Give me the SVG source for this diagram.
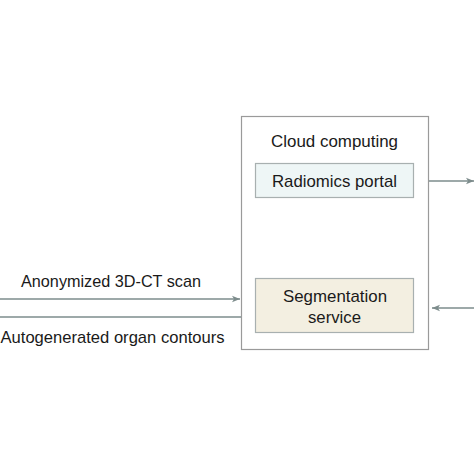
<svg xmlns="http://www.w3.org/2000/svg" width="474" height="474" viewBox="0 0 474 474">
<style>
.t{font-family:"Liberation Sans",Arial,sans-serif;font-size:17px;fill:#1a1a1a}
.c{stroke:#7d8c8c;stroke-width:1.3;fill:none}
</style>
<defs>
<marker id="ah" viewBox="0 0 10 10" refX="10" refY="5" markerWidth="8" markerHeight="8" markerUnits="userSpaceOnUse" orient="auto">
<path d="M0,1 L10,5 L0,9 L2.5,5 Z" fill="#7d8c8c"/>
</marker>
</defs>
<rect width="474" height="474" fill="#ffffff"/>
<g id="cloud">
<rect x="241.5" y="116.5" width="187" height="233" fill="#ffffff" stroke="#9a9a9a" stroke-width="1.2"/>
<text class="t" x="334.5" y="147" text-anchor="middle" textLength="127" lengthAdjust="spacingAndGlyphs">Cloud computing</text>
</g>
<g id="radiomics">
<rect x="255.5" y="163.5" width="158" height="34" fill="#eef6f6" stroke="#a8b0b0" stroke-width="1.2"/>
<text class="t" x="334.5" y="187" text-anchor="middle" textLength="125" lengthAdjust="spacingAndGlyphs">Radiomics portal</text>
</g>
<g id="segmentation">
<rect x="255.5" y="278.5" width="158" height="54" fill="#f3efe1" stroke="#a8b0b0" stroke-width="1.2"/>
<text class="t" x="335" y="302" text-anchor="middle" textLength="104" lengthAdjust="spacingAndGlyphs">Segmentation</text>
<text class="t" x="334.5" y="323" text-anchor="middle" textLength="53" lengthAdjust="spacingAndGlyphs">service</text>
</g>
<g id="connectors">
<line class="c" x1="429" y1="181" x2="474" y2="181" marker-end="url(#ah)"/>
<line class="c" x1="474" y1="308" x2="432" y2="308" marker-end="url(#ah)"/>
<line class="c" x1="0" y1="299" x2="240" y2="299" marker-end="url(#ah)"/>
<line class="c" x1="0" y1="317" x2="241" y2="317"/>
</g>
<g id="labels">
<text class="t" x="111" y="287" text-anchor="middle" textLength="180" lengthAdjust="spacingAndGlyphs">Anonymized 3D-CT scan</text>
<text class="t" x="0.5" y="343" textLength="224" lengthAdjust="spacingAndGlyphs">Autogenerated organ contours</text>
</g>
</svg>
